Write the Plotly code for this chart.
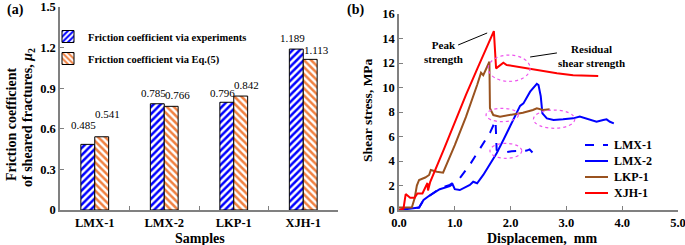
import plotly.graph_objects as go

# ---------------- data: panel (a) ----------------
SAMPLES = ["LMX-1", "LMX-2", "LKP-1", "XJH-1"]
MU_EXP = [0.485, 0.785, 0.796, 1.189]
MU_EQ5 = [0.541, 0.766, 0.842, 1.113]
A_YTICKS = [0, 0.3, 0.6, 0.9, 1.2, 1.5]
A_YTICKTEXT = ["0", "0.3", "0.6", "0.9", "1.2", "1.5"]

# ---------------- data: panel (b) ----------------
LMX1_X = [0, 0.36, 0.44, 0.56, 0.73, 0.91, 1.09, 1.27, 1.45, 1.63, 1.73, 1.75, 1.81, 1.93, 2.02, 2.11, 2.2, 2.29, 2.34, 2.38, 2.40]
LMX1_Y = [0, 0.2, 0.82, 1.22, 1.75, 2.05, 2.6, 3.7, 5.0, 6.3, 7.3, 4.9, 4.76, 4.72, 4.8, 4.82, 4.78, 4.85, 4.95, 4.7, 4.65]

LMX2_X = [0, 0.36, 0.44, 0.56, 0.73, 0.91, 0.96, 1.0, 1.09, 1.2, 1.27, 1.33, 1.40, 1.51, 1.63, 1.75, 1.87, 1.99, 2.11, 2.17, 2.23, 2.35, 2.47, 2.50, 2.54, 2.57, 2.65, 2.77, 2.94, 3.12, 3.24, 3.42, 3.54, 3.66, 3.72, 3.78, 3.85]
LMX2_Y = [0, 0.2, 0.82, 1.22, 1.7, 1.95, 2.1, 1.7, 1.63, 1.85, 2.04, 2.31, 2.18, 2.86, 3.8, 4.63, 5.71, 6.8, 7.9, 8.5, 8.7, 9.66, 10.3, 10.2, 9.3, 7.89, 7.48, 7.35, 7.4, 7.48, 7.62, 7.4, 7.2, 7.35, 7.4, 7.2, 7.07]

LKP1_X = [0, 0.23, 0.28, 0.32, 0.36, 0.47, 0.54, 0.57, 0.68, 0.79, 1.0, 1.2, 1.4, 1.47, 1.51, 1.55, 1.62, 1.63, 1.69, 1.81, 1.99, 2.22, 2.40, 2.47, 2.58, 2.70]
LKP1_Y = [0.2, 0.2, 0.95, 2.0, 2.45, 2.65, 2.86, 3.27, 3.13, 3.05, 5.3, 7.6, 10.2, 11.2, 11.0, 11.4, 12.1, 8.3, 7.75, 7.62, 7.76, 7.94, 8.16, 8.30, 8.16, 8.22]

XJH1_X = [0, 0.08, 0.12, 0.17, 0.2, 0.28, 0.33, 0.42, 0.47, 0.51, 0.52, 0.56, 0.8, 1.0, 1.2, 1.4, 1.6, 1.70, 1.74, 1.81, 1.87, 1.93, 2.11, 2.29, 2.53, 2.83, 3.12, 3.57]
XJH1_Y = [0, 0.1, 1.3, 1.1, 1.0, 1.0, 1.35, 1.35, 1.9, 2.2, 1.6, 2.3, 4.9, 7.2, 9.4, 11.5, 13.6, 14.6, 11.56, 11.84, 12.03, 11.84, 11.7, 11.57, 11.43, 11.16, 11.0, 10.94]

B_XTICKS = [0, 1, 2, 3, 4, 5]
B_XTICKTEXT = ["0.0", "1.0", "2.0", "3.0", "4.0", "5.0"]
B_YTICKS = [0, 2, 4, 6, 8, 10, 12, 14, 16]

# ---------------- styling ----------------
W, H = 685, 245
SERIF = "Liberation Serif"
AXCOL = "#808080"
BLUE = "#0000ff"
ORANGE = "#f08040"
BROWN = "#99521f"
RED = "#ff0000"

def px_x(p):
    return p / W

def px_y(p):
    return 1 - p / H

fig = go.Figure()

fig.add_trace(go.Bar(
    x=SAMPLES, y=MU_EXP, name="Friction coefficient via experiments",
    xaxis="x", yaxis="y", legend="legend", legendgroup="a1",
    marker=dict(color=BLUE, line=dict(color="black", width=1),
                pattern=dict(shape="/", fgcolor=BLUE, bgcolor="white", fillmode="replace",
                             size=5, solidity=0.5)),
))
fig.add_trace(go.Bar(
    x=SAMPLES, y=MU_EQ5, name="Friction coefficient via Eq.(5)",
    xaxis="x", yaxis="y", legend="legend", legendgroup="a2",
    marker=dict(color=ORANGE, line=dict(color="black", width=1),
                pattern=dict(shape="\\", fgcolor=ORANGE, bgcolor="white", fillmode="replace",
                             size=5, solidity=0.5)),
))

SERIES_B = [
    ("LMX-1", LMX1_X, LMX1_Y, BLUE, "dash"),
    ("LMX-2", LMX2_X, LMX2_Y, BLUE, "solid"),
    ("LKP-1", LKP1_X, LKP1_Y, BROWN, "solid"),
    ("XJH-1", XJH1_X, XJH1_Y, RED, "solid"),
]
for name, xs, ys, col, dash in SERIES_B:
    fig.add_trace(go.Scatter(
        x=xs, y=ys, name=name, mode="lines", xaxis="x2", yaxis="y2",
        showlegend=False, line=dict(color=col, width=2, dash=dash),
    ))

annotations = []
shapes = []
# bar value labels
LABEL_DY = [(11, 15), (3, 3), (1, 3), (3, 1)]
for i, (a, b) in enumerate(zip(MU_EXP, MU_EQ5)):
    annotations.append(dict(x=i - 0.1, y=a, xref="x", yref="y", text=f"{a:.3f}",
                            showarrow=False, xanchor="center", yanchor="bottom",
                            xshift=-4, yshift=LABEL_DY[i][0],
                            font=dict(family=SERIF, size=11, color="black")))
    annotations.append(dict(x=i + 0.1, y=b, xref="x", yref="y", text=f"{b:.3f}",
                            showarrow=False, xanchor="center", yanchor="bottom",
                            xshift=6, yshift=LABEL_DY[i][1],
                            font=dict(family=SERIF, size=11, color="black")))

bold = dict(family=SERIF, size=14, color="black", weight="bold")
C = dict(xanchor="center", yanchor="middle", showarrow=False)
annotations += [
    dict(x=px_x(15), y=px_y(10), xref="paper", yref="paper", text="(a)",
         font=dict(family=SERIF, size=14, color="black", weight="bold"), **C),
    dict(x=px_x(355), y=px_y(10), xref="paper", yref="paper", text="(b)",
         font=dict(family=SERIF, size=14, color="black", weight="bold"), **C),
    dict(x=px_x(11), y=px_y(125), xref="paper", yref="paper", text="Friction coefficient",
         textangle=-90, font=bold, **C),
    dict(x=px_x(28), y=px_y(118), xref="paper", yref="paper",
         text="of sheared fractures, <i>μ</i><sub>2</sub>",
         textangle=-90, font=bold, **C),
    dict(x=px_x(200), y=px_y(238), xref="paper", yref="paper", text="Samples",
         font=bold, **C),
    dict(x=px_x(367), y=px_y(110), xref="paper", yref="paper", text="Shear stress, MPa",
         textangle=-90, font=dict(family=SERIF, size=13.5, color="black", weight="bold"), **C),
    dict(x=px_x(542), y=px_y(238), xref="paper", yref="paper", text="Displacemen,  mm",
         font=bold, **C),
    dict(x=0.79, y=12.9, xref="x2", yref="y2", text="Peak<br>strength",
         font=dict(family=SERIF, size=11, color="black", weight="bold"), **C),
    dict(x=3.45, y=12.57, xref="x2", yref="y2", text="Residual<br>shear strength",
         font=dict(family=SERIF, size=11, color="black", weight="bold"), **C),
]

# legend for panel (b), drawn as line samples plus labels
for k, (name, xs, ys, col, dash) in enumerate(SERIES_B):
    yy = px_y(145 + 16 * k)
    shapes.append(dict(type="line", xref="paper", yref="paper", x0=px_x(585), x1=px_x(608),
                       y0=yy, y1=yy, line=dict(color=col, width=2, dash=dash)))
    annotations.append(dict(x=px_x(612), y=yy, xref="paper", yref="paper", text=name,
                            xanchor="left", yanchor="middle", showarrow=False,
                            font=dict(family=SERIF, size=12, color="black", weight="bold")))

shapes += [
    dict(type="line", xref="x2", yref="y2", x0=1.06, y0=13.47, x1=1.58, y1=14.45,
         line=dict(color="black", width=1)),
    dict(type="line", xref="x2", yref="y2", x0=2.35, y0=12.49, x1=2.83, y1=12.82,
         line=dict(color="black", width=1)),
]
for x0, x1, y0, y1 in [(1.60, 2.35, 10.5, 12.65), (1.56, 2.14, 7.21, 8.30),
                       (2.41, 3.15, 6.67, 8.16), (1.63, 2.2, 4.22, 5.44)]:
    shapes.append(dict(type="circle", xref="x2", yref="y2", x0=x0, x1=x1, y0=y0, y1=y1,
                       line=dict(color="#ee55ee", width=1.2, dash="dot")))

tickfont = dict(family=SERIF, size=12.5, color="black", weight="bold")
axis_common = dict(showline=True, linecolor=AXCOL, linewidth=1.5, ticks="inside",
                   tickcolor=AXCOL, ticklen=4, showgrid=False, zeroline=False,
                   tickfont=tickfont, automargin=False, ticklabeloverflow="allow")

fig.update_layout(
    width=W, height=H, margin=dict(l=0, r=0, t=0, b=0),
    paper_bgcolor="white", plot_bgcolor="white",
    barmode="group", bargap=0.6, bargroupgap=0,
    xaxis=dict(domain=[px_x(60), px_x(338)], anchor="y", type="category",
               range=[-0.5, 3.5], tickson="boundaries", **axis_common),
    yaxis=dict(domain=[px_y(210), px_y(7)], anchor="x", range=[0, 1.5],
               tickvals=A_YTICKS, ticktext=A_YTICKTEXT, **axis_common),
    xaxis2=dict(domain=[px_x(399), px_x(678)], anchor="y2", range=[0, 5],
                tickvals=B_XTICKS, ticktext=B_XTICKTEXT, **axis_common),
    yaxis2=dict(domain=[px_y(210), px_y(14)], anchor="x2", range=[0, 16],
                tickvals=B_YTICKS, **axis_common),
    legend=dict(x=px_x(48), y=px_y(22), xanchor="left", yanchor="top",
                bgcolor="rgba(0,0,0,0)", tracegroupgap=3,
                font=dict(family=SERIF, size=10.5, color="black", weight="bold")),
    annotations=annotations, shapes=shapes,
)

fig.write_html(
    "out.html",
    config={"displayModeBar": False},
    post_script="document.body.style.margin='0';document.body.style.overflow='hidden';",
)
